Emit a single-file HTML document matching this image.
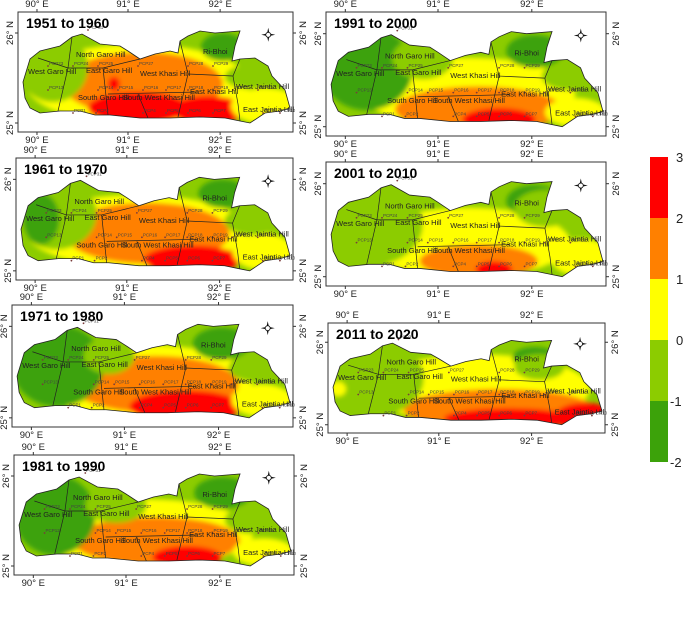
<!DOCTYPE html>
<html><head><meta charset="utf-8">
<style>
html,body{margin:0;padding:0;background:#fff;}
body{width:685px;height:620px;overflow:hidden;font-family:"Liberation Sans",sans-serif;}
svg text{font-family:"Liberation Sans",sans-serif;}
</style></head>
<body>
<svg id="fig" width="685" height="620" viewBox="0 0 685 620" xmlns="http://www.w3.org/2000/svg">
<defs>
<filter id="blur" x="-10%" y="-10%" width="120%" height="120%"><feGaussianBlur stdDeviation="2.5"/></filter>
</defs>
</svg>
<script>
const legendBreaks=[3,2,1,0,-1,-2];
const legendColors=["#ff0000","#ff8000","#ffff00","#8ccc00","#3ca20a"];
const decades=["1951 to 1960","1961 to 1970","1971 to 1980","1981 to 1990","1991 to 2000","2001 to 2010","2011 to 2020"];
const lonTicks=["90° E","91° E","92° E"];
const latTicks=["26° N","25° N"];
const C={R:"#ff0000",O:"#ff8000",Y:"#ffff00",L:"#8ccc00",D:"#3ca20a"};
const blobs=[
 [[120,72,112,40,"Y"],[125,72,80,32,"O"],[120,96,50,16,"R"],[190,98,38,14,"R"],[96,72,6,7,"R"],[248,94,35,18,"Y"],[232,65,25,12,"L"],[35,55,35,35,"L"],[205,35,22,14,"D"]],
 [[120,72,110,36,"Y"],[130,74,82,30,"O"],[175,100,48,14,"R"],[245,92,30,18,"Y"],[235,62,28,14,"L"],[40,55,40,35,"L"],[25,60,18,25,"D"],[205,35,24,14,"D"]],
 [[130,75,105,36,"Y"],[140,78,82,28,"O"],[170,100,55,16,"R"],[245,94,30,16,"Y"],[240,62,28,14,"L"],[45,60,45,40,"D"],[95,50,25,18,"L"],[205,38,28,16,"D"]],
 [[130,78,105,34,"Y"],[140,86,82,24,"O"],[170,102,34,11,"R"],[245,97,30,14,"Y"],[235,65,28,14,"L"],[40,60,40,40,"D"],[100,50,30,18,"L"],[205,38,28,16,"D"]],
 [[140,78,105,34,"Y"],[150,94,82,22,"O"],[170,104,36,11,"R"],[245,97,30,14,"Y"],[240,62,28,14,"L"],[40,55,45,40,"D"],[95,45,30,20,"L"],[205,38,28,16,"D"]],
 [[140,78,100,34,"Y"],[150,96,58,16,"O"],[165,104,18,8,"R"],[250,92,30,18,"Y"],[45,60,50,40,"L"],[205,38,28,16,"D"],[215,45,30,18,"L"]],
 [[150,72,110,38,"Y"],[170,94,95,22,"O"],[180,104,65,11,"R"],[255,102,30,15,"R"],[45,60,50,42,"L"],[10,72,8,8,"Y"],[205,38,22,12,"D"],[210,48,25,14,"L"]]
];
const panels=[[18,12,275,120],[16,158,277,122],[12,305,281,122],[14,455,280,120],[326,12,280,124],[326,162,280,124],[328,323,277,110]];
const outline=[[5,70],[12,47],[22,39],[42,34],[54,25],[64,22],[82,32],[102,34],[110,39],[122,47],[137,42],[152,39],[160,41],[162,29],[170,24],[182,19],[197,21],[222,19],[217,34],[214,49],[222,47],[237,46],[250,54],[254,64],[267,78],[272,96],[262,99],[247,101],[232,111],[222,109],[207,106],[182,105],[152,106],[122,106],[92,103],[77,103],[62,99],[42,99],[22,101],[12,96],[7,86]];
const lines=[[[54,25],[50,56],[40,99]],[[50,56],[85,56],[122,47]],[[85,56],[90,103]],[[120,82],[130,106]],[[162,29],[170,62],[160,105]],[[170,62],[215,64],[222,47]],[[215,64],[220,92],[222,109]],[[50,56],[20,46]],[[90,82],[180,80]]];
const names=[["North Garo Hill",58,45],["West Garo Hill",10,62],["East Garo Hill",68,61],["West Khasi Hill",122,64],["Ri-Bhoi",185,42],["South Garo Hill",60,88],["South West Khasi Hill",105,88],["East Khasi Hill",172,82],["West Jaintia Hill",218,77],["East Jaintia Hill",225,100]];
const pcp=[["PCP31",70,18],["PCP23",30,54],["PCP24",55,54],["PCP25",80,54],["PCP27",120,54],["PCP28",170,54],["PCP29",195,54],["PCP13",30,78],["PCP14",80,78],["PCP15",100,78],["PCP16",125,78],["PCP17",148,78],["PCP18",170,78],["PCP19",195,78],["PCP20",215,78],["PCP21",240,78],["PCP1",55,101],["PCP2",78,101],["PCP4",125,101],["PCP5",148,101],["PCP6",170,101],["PCP7",195,101],["PCP9",245,101],["PCP10",262,101]];
const NS="http://www.w3.org/2000/svg";
const svg=document.getElementById('fig');
function mk(tag,attrs,parent){const e=document.createElementNS(NS,tag);for(const k in attrs)e.setAttribute(k,attrs[k]);(parent||svg).appendChild(e);return e;}
function txt(s,attrs,parent){const t=mk('text',attrs,parent);t.textContent=s;return t;}
const lonPos=[0.069,0.40,0.735], latPos=[0.175,0.925];
panels.forEach((p,i)=>{
 const [x,y,w,h]=p; const sx=w/275, sy=h/120;
 const g=mk('g',{transform:`translate(${x},${y})`});
 
 
 const fr=mk('rect',{x:0,y:0,width:w,height:h,fill:'#fff',stroke:'#333','stroke-width':1},g);
 
 
 const pts=outline.map(q=>(q[0]*sx)+','+(q[1]*sy)).join(' ');
 const cp=mk('clipPath',{id:'cp'+i},g); mk('polygon',{points:pts},cp);
 const mg=mk('g',{'clip-path':`url(#cp${i})`},g);
 
 
 mk('rect',{x:0,y:0,width:w,height:h,fill:C.L},mg);
 const bg=mk('g',{filter:'url(#blur)'},mg);
 blobs[i].forEach(b=>{const el=mk('ellipse',{cx:b[0]*sx,cy:b[1]*sy,rx:b[2]*sx,ry:b[3]*sy,fill:C[b[4]]},bg);
  
  });
 lines.forEach(l=>mk('polyline',{points:l.map(q=>(q[0]*sx)+','+(q[1]*sy)).join(' '),fill:'none',stroke:'#222','stroke-width':0.7},mg));
 const ol=mk('polygon',{points:pts,fill:'none',stroke:'#222','stroke-width':0.8},g);
 
 
 pcp.forEach(s=>{mk('circle',{cx:s[1]*sx,cy:s[2]*sy,r:0.9,fill:'#7a3b3b'},g);txt(s[0],{x:s[1]*sx+1,y:s[2]*sy-1,'font-size':4.5,fill:'#444'},g);});
 names.forEach(n=>{const t=txt(n[0],{x:n[1]*sx,y:n[2]*sy,'font-size':7.5,fill:'#222'},g);
  
  });
 const tt=txt(decades[i],{x:8,y:16,'font-size':14,'font-weight':'bold',fill:'#000'},g);
 
 
 const cx=w*0.91, cy=h*0.19;
 mk('path',{d:`M${cx},${cy-7}L${cx+1.5},${cy}L${cx},${cy+7}L${cx-1.5},${cy}Z M${cx-7},${cy}L${cx},${cy-1.5}L${cx+7},${cy}L${cx},${cy+1.5}Z`,fill:'#111'},g);
 mk('circle',{cx:cx,cy:cy,r:2.5,fill:'#fff',stroke:'#111','stroke-width':0.8},g);
 lonTicks.forEach((s,k)=>{const tx=lonPos[k]*w;
  mk('line',{x1:tx,y1:0,x2:tx,y2:-3,stroke:'#333'},g);mk('line',{x1:tx,y1:h,x2:tx,y2:h+3,stroke:'#333'},g);
  txt(s,{x:tx,y:-5,'font-size':9.5,'text-anchor':'middle',fill:'#222'},g);
  txt(s,{x:tx,y:h+11,'font-size':9.5,'text-anchor':'middle',fill:'#222'},g);});
 latTicks.forEach((s,k)=>{const ty=latPos[k]*h;
  mk('line',{x1:0,y1:ty,x2:-3,y2:ty,stroke:'#333'},g);mk('line',{x1:w,y1:ty,x2:w+3,y2:ty,stroke:'#333'},g);
  txt(s,{x:0,y:0,'font-size':9.5,'text-anchor':'middle',fill:'#222',transform:`translate(-5,${ty}) rotate(-90)`},g);
  txt(s,{x:0,y:0,'font-size':9.5,'text-anchor':'middle',fill:'#222',transform:`translate(${w+13},${ty}) rotate(-90)`},g);});
});
const lg=mk('g',{});


const lx=650, ly0=157, lh=61;
legendColors.forEach((c,k)=>{const r=mk('rect',{x:lx,y:ly0+k*lh,width:18,height:lh,fill:c},lg);
 
 });
legendBreaks.forEach((v,k)=>{const t=txt(String(v),{x:v<0?670:676,y:ly0+k*lh+5,'font-size':13,fill:'#222'},lg);
 
 });
</script>
</body></html>
